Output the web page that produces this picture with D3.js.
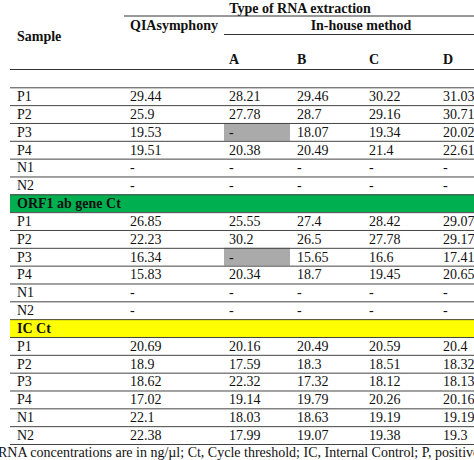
<!DOCTYPE html><html><head><meta charset="utf-8"><script src="https://cdn.jsdelivr.net/npm/d3@7"></script>
<style>body{margin:0;background:#fff}text{font-family:"Liberation Serif","Times New Roman",serif;fill:#111}</style></head><body><svg id="c" width="474" height="460"></svg><script>
const methods=["QIAsymphony","A","B","C","D"];
const samples=["P1","P2","P3","P4","N1","N2"];
const sec1=[["29.44","28.21","29.46","30.22","31.03"],["25.9","27.78","28.7","29.16","30.71"],["19.53","-","18.07","19.34","20.02"],["19.51","20.38","20.49","21.4","22.61"],["-","-","-","-","-"],["-","-","-","-","-"]];
const orf=[["26.85","25.55","27.4","28.42","29.07"],["22.23","30.2","26.5","27.78","29.17"],["16.34","-","15.65","16.6","17.41"],["15.83","20.34","18.7","19.45","20.65"],["-","-","-","-","-"],["-","-","-","-","-"]];
const ic=[["20.69","20.16","20.49","20.59","20.4"],["18.9","17.59","18.3","18.51","18.32"],["18.62","22.32","17.32","18.12","18.13"],["17.02","19.14","19.79","20.26","20.16"],["22.1","18.03","18.63","19.19","19.19"],["22.38","17.99","19.07","19.38","19.3"]];
const greyCells=[[0,2,1],[1,2,1]];
const sections=[{title:null,data:sec1},{title:"ORF1 ab gene Ct",color:"#00b050",data:orf},{title:"IC Ct",color:"#ffff00",data:ic}];
const svg=d3.select("#c");
const rows=[];sections.forEach((s,si)=>{if(s.title)rows.push({type:"band",s:si});samples.forEach((p,ri)=>rows.push({type:"data",s:si,r:ri}));});
const y=d3.scaleBand().domain(d3.range(rows.length)).range([87.3,444]);
const colX={"Sample":17,"QIAsymphony":130,"A":229,"B":297,"C":369,"D":443};
const L=10,R=474;
svg.append("text").attr("x",300).attr("y",13).attr("text-anchor","middle").attr("font-weight","bold").attr("font-size",14).text("Type of RNA extraction");
svg.append("line").attr("x1",124).attr("x2",R).attr("y1",16).attr("y2",16).attr("stroke","#333");
svg.append("text").attr("x",130).attr("y",30).attr("font-weight","bold").attr("font-size",14).text("QIAsymphony");
svg.append("text").attr("x",361).attr("y",30).attr("text-anchor","middle").attr("font-weight","bold").attr("font-size",14).text("In-house method");
svg.append("line").attr("x1",224).attr("x2",R).attr("y1",34.5).attr("y2",34.5).attr("stroke","#333");
svg.append("text").attr("x",17).attr("y",41).attr("font-weight","bold").attr("font-size",14).text("Sample");
methods.slice(1).forEach(m=>svg.append("text").attr("x",colX[m]).attr("y",64).attr("font-weight","bold").attr("font-size",14).text(m));
svg.append("line").attr("x1",L).attr("x2",R).attr("y1",69.5).attr("y2",69.5).attr("stroke","#333");
greyCells.forEach(([s,r,c])=>{const idx=rows.findIndex(o=>o.type==="data"&&o.s===s&&o.r===r);svg.append("rect").attr("x",224).attr("width",66).attr("y",y(idx)).attr("height",y.bandwidth()).attr("fill","#aaaaaa");});
rows.forEach((o,i)=>{
  const yy=y(i),h=y.bandwidth();
  if(o.type==="band"){
    svg.append("rect").attr("x",L).attr("width",R-L).attr("y",yy).attr("height",h).attr("fill",sections[o.s].color);
    svg.append("text").attr("x",17).attr("y",yy+h-4).attr("font-weight","bold").attr("font-size",14).text(sections[o.s].title);
  }else{
    svg.append("text").attr("x",17).attr("y",yy+h-4).attr("font-size",14).text(samples[o.r]);
    methods.forEach((m,ci)=>svg.append("text").attr("x",colX[m]).attr("y",yy+h-4).attr("font-size",14).text(sections[o.s].data[o.r][ci]));
  }
  svg.append("line").attr("x1",L).attr("x2",R).attr("y1",yy+0.5).attr("y2",yy+0.5).attr("stroke","#444").attr("stroke-width",1);
});
svg.append("line").attr("x1",L).attr("x2",R).attr("y1",444.5).attr("y2",444.5).attr("stroke","#444");
svg.append("text").attr("x",-2).attr("y",457).attr("font-size",14).text("RNA concentrations are in ng/µl; Ct, Cycle threshold; IC, Internal Control; P, positive");
</script></body></html>
